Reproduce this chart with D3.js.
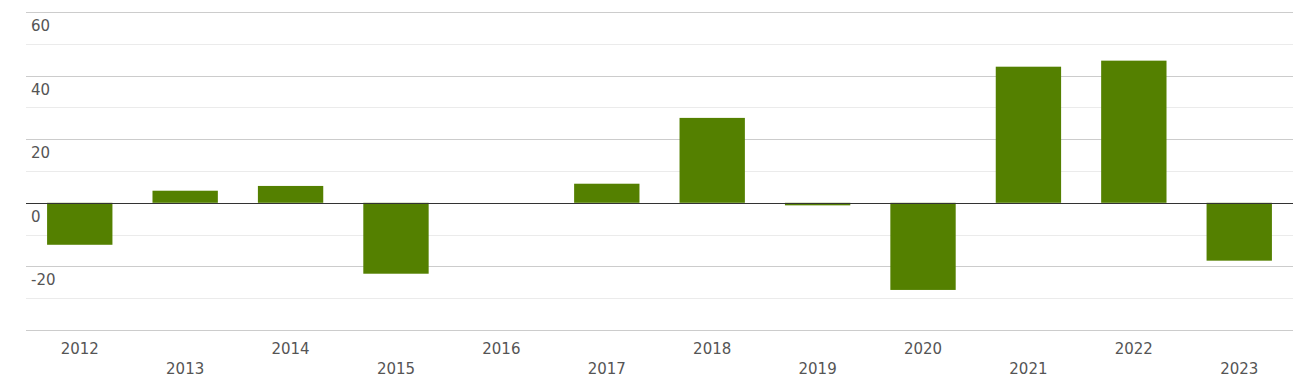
<!DOCTYPE html>
<html lang="en">
  <head>
    <meta charset="utf-8">
    <title>Yearly change</title>
    <style>
		body{ margin:0; background:#fff; }
		text{ font-family: "DejaVu Sans", sans-serif; font-size:15px; fill:#555; }
		line.major{ stroke:#ccc; stroke-width:1; }
		line.minor{ stroke:#ebebeb; stroke-width:1; }
		line.zero{ stroke:#333; stroke-width:1; }
		rect.bar{ fill:#548000; }
    </style>
  </head>
  <body>
	<div id="container"></div>
	<script src="https://cdn.jsdelivr.net/npm/d3@7"></script>
	<script type="text/javascript">

		var years = ["2012","2013","2014","2015","2016","2017","2018","2019","2020","2021","2022","2023"];
		var values = [-13.2, 3.8, 5.3, -22.3, 0, 6.0, 26.7, -0.8, -27.4, 42.8, 44.7, -18.2];
		var majorTicks = [60, 40, 20, 0, -20, -40];
		var minorTicks = [50, 30, 10, -10, -30];

		var width = 1293,
			height = 384,
			plotLeft = 26,
			plotRight = 1293,
			plotTop = 12,
			plotBottom = 330;

		var svg = d3.select('#container').append('svg')
			.attr('width', width).attr('height', height);

		var x = d3.scaleBand().domain(years).range([plotLeft, plotRight])
			.paddingInner(0.38).paddingOuter(0.2);
		var y = d3.scaleLinear().domain([-40, 60]).range([plotBottom, plotTop]);

		function py(d){ return Math.round(y(d)) + 0.5; }

		svg.append('g').selectAll('line').data(minorTicks).enter()
			.append('line').attr('class', 'minor')
			.attr('x1', plotLeft).attr('x2', plotRight)
			.attr('y1', py).attr('y2', py);

		svg.append('g').selectAll('line').data(majorTicks.filter(function(d){ return d !== 0; })).enter()
			.append('line').attr('class', 'major')
			.attr('x1', plotLeft).attr('x2', plotRight)
			.attr('y1', py).attr('y2', py);

		// y labels sit just under their grid line
		svg.append('g').selectAll('text').data(majorTicks.filter(function(d){ return d > -40; })).enter()
			.append('text')
			.attr('x', plotLeft + 5)
			.attr('y', function(d){ return y(d) + 19; })
			.text(function(d){ return d; });

		svg.append('g').selectAll('rect').data(values).enter()
			.append('rect').attr('class', 'bar')
			.attr('x', function(d, i){ return x(years[i]); })
			.attr('width', x.bandwidth())
			.attr('y', function(d){ return y(Math.max(0, d)); })
			.attr('height', function(d){ return Math.abs(y(d) - y(0)); });

		svg.append('line').attr('class', 'zero')
			.attr('x1', plotLeft).attr('x2', plotRight)
			.attr('y1', py(0)).attr('y2', py(0));

		// x labels alternate between two rows
		svg.append('g').selectAll('text').data(years).enter()
			.append('text')
			.attr('text-anchor', 'middle')
			.attr('x', function(d){ return x(d) + x.bandwidth() / 2; })
			.attr('y', function(d, i){ return i % 2 === 0 ? 354 : 374; })
			.text(function(d){ return d; });

	</script>
  </body>
</html>
